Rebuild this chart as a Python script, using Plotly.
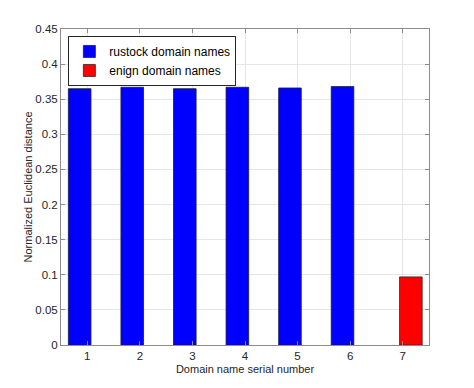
import plotly.graph_objects as go

categories = [1, 2, 3, 4, 5, 6, 7]
rustock_values = [0.365, 0.367, 0.365, 0.367, 0.366, 0.368, None]
benign_values = [None, None, None, None, None, None, 0.097]
series_names = ["rustock domain names", "enign domain names"]
y_ticks = [0, 0.05, 0.1, 0.15, 0.2, 0.25, 0.3, 0.35, 0.4, 0.45]
y_tick_labels = ["0", "0.05", "0.1", "0.15", "0.2", "0.25", "0.3", "0.35", "0.4", "0.45"]

fig = go.Figure()
fig.add_trace(go.Bar(
    x=categories, y=rustock_values, name=series_names[0],
    marker=dict(color="#0000FF", line=dict(color="#1a1a40", width=0.8)),
    width=0.43, offset=-0.36,
))
fig.add_trace(go.Bar(
    x=categories, y=benign_values, name=series_names[1],
    marker=dict(color="#FF0000", line=dict(color="#401a1a", width=0.8)),
    width=0.43, offset=-0.06,
))

axis_font = dict(family="Liberation Sans, Arial, sans-serif", size=11, color="#262626")
tick_font = dict(family="Liberation Sans, Arial, sans-serif", size=11.5, color="#262626")

# page body has an 8px default margin, so the figure is sized to fit inside it
fig.update_layout(
    width=466, height=380,
    margin=dict(l=53, r=45, t=21, b=43),
    barmode="overlay",
    paper_bgcolor="white", plot_bgcolor="white",
    font=axis_font,
    showlegend=True,
    legend=dict(
        x=0.02, y=0.978, xanchor="left", yanchor="top",
        bgcolor="white", bordercolor="#262626", borderwidth=1,
        font=dict(family="Liberation Sans, Arial, sans-serif", size=12, color="#000000"),
        tracegroupgap=0,
    ),
    xaxis=dict(
        range=[0.5, 7.5], tickmode="array", tickvals=categories,
        ticktext=[str(c) for c in categories],
        showgrid=True, gridcolor="#e6e6e6", gridwidth=1,
        showline=True, linecolor="#8c8c8c", linewidth=1, mirror="ticks",
        ticks="inside", ticklen=4, tickcolor="#8c8c8c",
        zeroline=False,
        title=dict(text="Domain name serial number", standoff=4, font=axis_font),
        tickfont=tick_font,
    ),
    yaxis=dict(
        range=[0, 0.45], tickmode="array", tickvals=y_ticks, ticktext=y_tick_labels,
        showgrid=True, gridcolor="#e6e6e6", gridwidth=1,
        showline=True, linecolor="#8c8c8c", linewidth=1, mirror="ticks",
        ticks="inside", ticklen=4, tickcolor="#8c8c8c",
        zeroline=False,
        title=dict(text="Normalized Euclidean distance", standoff=0, font=axis_font),
        tickfont=tick_font,
    ),
)

fig.write_html("out.html")
